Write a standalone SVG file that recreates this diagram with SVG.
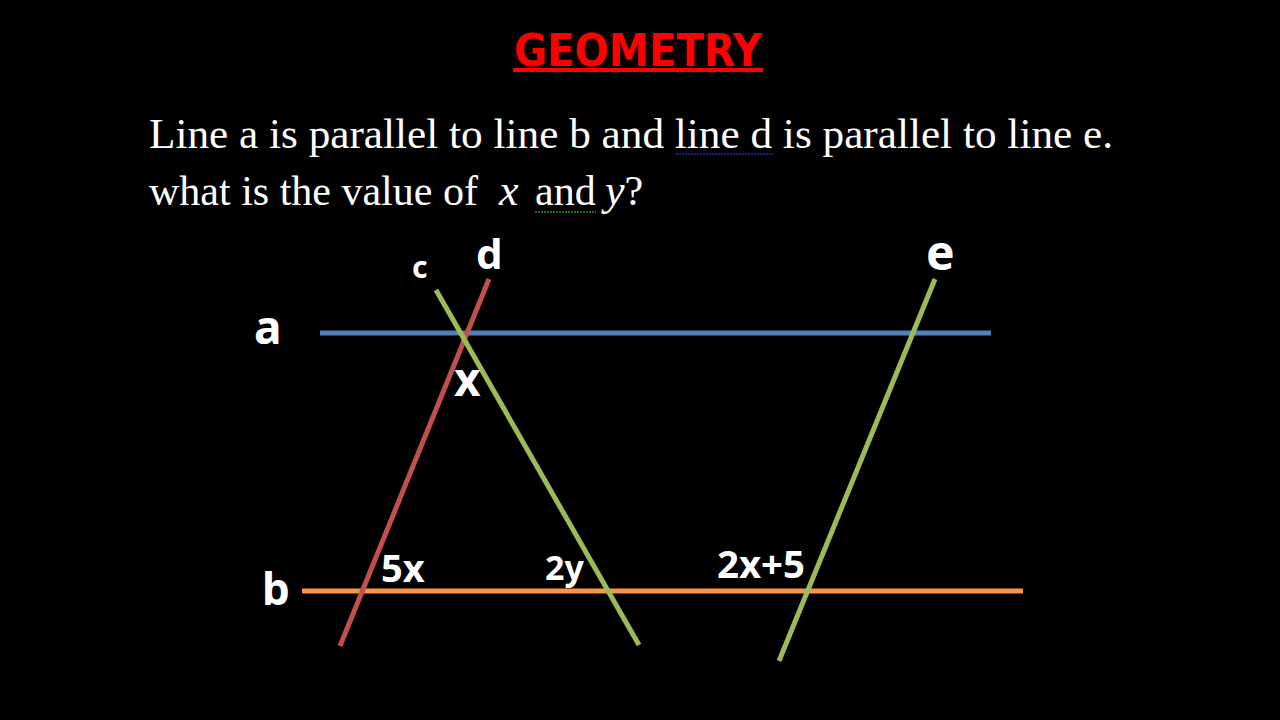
<svg xmlns="http://www.w3.org/2000/svg" width="1280" height="720" viewBox="0 0 1280 720">
<style>
.q{font-family:"Liberation Serif","Times New Roman",serif;font-size:42px;fill:#fff}
.h{font-family:"Noto Sans","DejaVu Sans",sans-serif;font-weight:bold;fill:#fff}
.ln{stroke-width:5;stroke-linecap:butt;fill:none}
</style>
<rect width="1280" height="720" fill="#000"/>
<g id="title">
<text x="638" y="66" text-anchor="middle" font-family="'DejaVu Sans',Verdana,sans-serif" font-weight="bold" font-size="44" fill="#ff0000" textLength="248" lengthAdjust="spacingAndGlyphs">GEOMETRY</text>
<rect x="513" y="68" width="250" height="4" fill="#ff0000"/>
</g>
<g id="question">
<text class="q" x="149" y="148" textLength="964" lengthAdjust="spacingAndGlyphs">Line a is parallel to line b and line d is parallel to line e.</text>
<text class="q" x="149" y="205">what is the value of <tspan x="499" font-style="italic" font-size="44">x</tspan><tspan x="535">and</tspan><tspan x="605" font-style="italic" font-size="44">y</tspan>?</text>
<line x1="676" y1="154" x2="773" y2="154" stroke="#1f2f9f" stroke-width="1.5" stroke-dasharray="2,1"/>
<line x1="535" y1="212" x2="596" y2="212" stroke="#2f8f2f" stroke-width="1.5" stroke-dasharray="2,1"/>
</g>
<g id="connectors">
<line id="line-a" class="ln" x1="320" y1="333" x2="991" y2="333" stroke="#4f81bd"/>
<line id="line-b" class="ln" x1="302" y1="591" x2="1023" y2="591" stroke="#f79646"/>
<line id="line-d" class="ln" x1="489" y1="279" x2="340" y2="646" stroke="#c0504d"/>
<line id="line-c" class="ln" x1="436" y1="290" x2="639" y2="645" stroke="#9bbb59"/>
<line id="line-e" class="ln" x1="935" y1="279" x2="779" y2="661" stroke="#9bbb59"/>
</g>
<g id="label-a"><text class="h" x="254" y="344" font-size="46">a</text></g>
<g id="label-b"><text class="h" x="262" y="605" font-size="44">b</text></g>
<g id="label-c"><text class="h" x="412" y="278" font-size="30">c</text></g>
<g id="label-d"><text class="h" x="476" y="269" font-size="42">d</text></g>
<g id="label-e"><text class="h" x="926" y="270" font-size="48">e</text></g>
<g id="label-x"><text class="h" x="454" y="396" font-size="46">x</text></g>
<g id="label-5x"><text class="h" x="381" y="582" font-size="38">5x</text></g>
<g id="label-2y"><text class="h" x="545" y="580" font-size="34">2y</text></g>
<g id="label-2x5"><text class="h" x="717" y="578" font-size="38" textLength="88" lengthAdjust="spacingAndGlyphs">2x+5</text></g>
</svg>
